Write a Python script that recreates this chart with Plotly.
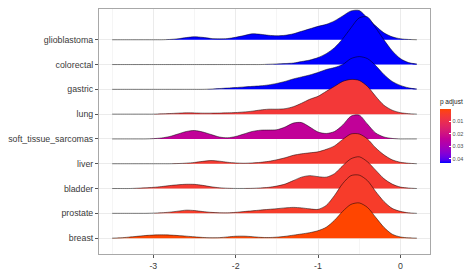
import plotly.graph_objects as go
import plotly.colors as pc

# ---------------- data ----------------
x_grid = [-3.5, -3.4, -3.3, -3.2, -3.1, -3.0, -2.9, -2.8, -2.7, -2.6, -2.5, -2.4, -2.3,
          -2.2, -2.1, -2.0, -1.9, -1.8, -1.7, -1.6, -1.5, -1.4, -1.3, -1.2, -1.1, -1.0,
          -0.9, -0.8, -0.7, -0.6, -0.5, -0.4, -0.3, -0.2, -0.1, 0.0, 0.1, 0.2]

# bottom -> top
categories = ["breast", "prostate", "bladder", "liver", "soft_tissue_sarcomas",
              "lung", "gastric", "colorectal", "glioblastoma"]

p_adjust = [0.0002, 0.004, 0.005, 0.005, 0.024, 0.006, 0.0435, 0.0435, 0.0435]

dens_breast = [0, 0.3, 1, 1.8, 2.6, 3.1, 3.3, 3.1, 2.6, 2, 1.3, 0.7, 0.4, 0.5, 1.2, 1.9, 2, 1.5,
               0.8, 0.6, 1, 1.8, 3, 4.2, 5.5, 7.5, 11, 18, 27, 34, 35.5, 31, 21, 11, 4, 1.2, 0.3, 0]
dens_prostate = [0, 0, 0, 0, 0, 0.2, 0.6, 1.2, 2.2, 3.2, 2.8, 1.8, 1, 0.6, 0.5, 1, 1.8, 2.5, 3.3, 4,
                 4.7, 5.5, 6, 5.5, 4.5, 4, 8, 18, 30, 38, 38.5, 33, 22, 12, 5, 2, 0.5, 0]
dens_bladder = [0, 0, 0, 0.3, 0.7, 1.2, 2, 3, 3.8, 4.3, 4.2, 3.2, 1.8, 0.8, 0.3, 0.1, 0.1, 0.2, 0.6,
                1.2, 2.5, 4.5, 8, 11.5, 13, 12, 11.5, 15, 23, 30, 32, 27, 18.5, 10, 4.5, 1.5, 0.5, 0]
dens_liver = [0, 0, 0, 0, 0, 0, 0, 0, 0.2, 0.6, 1.3, 2.4, 3.2, 2.6, 1.5, 0.8, 0.5, 0.8, 1.4, 2.4, 4, 6,
              8.5, 10, 11, 12, 14.5, 18, 24.5, 30, 30, 25, 16, 9, 4, 1.5, 0.5, 0]
dens_soft = [0, 0, 0, 0, 0, 0.3, 1, 2.5, 5, 7.5, 8.5, 7, 4.5, 2, 1.2, 2.5, 5, 7.5, 8.8, 9, 9.3, 12, 16,
             16.5, 12, 7, 5.5, 7.5, 14, 23, 24, 15, 6, 2, 0.5, 0, 0, 0]
dens_lung = [0, 0, 0, 0, 0, 0, 0.3, 0.6, 1, 1.3, 1.2, 1, 1, 1.1, 1.3, 1.6, 2.2, 3, 4.2, 5, 5, 5.5,
             7.5, 11, 15, 18, 23, 28, 33, 35, 34, 28, 18, 9, 4, 1.5, 0.5, 0]
dens_gastric = [0, 0, 0, 0, 0, 0, 0, 0, 0, 0, 0, 0, 0.3, 0.8, 1.3, 1.8, 2.4, 3, 3.5, 4.5, 6, 8, 10.5,
                12.5, 14.5, 17, 20, 22, 25, 31, 33, 31, 24, 15, 8, 4, 1.5, 0.3]
dens_colorectal = [0, 0, 0, 0, 0, 0, 0, 0, 0, 0, 0, 0, 0, 0, 0, 0, 0, 0, 0, 0.3, 0.6, 1, 1.5,
                   3, 4.5, 7, 11, 17, 26, 37, 47, 48, 37, 25, 14, 6, 2, 0.5]
dens_glio = [0, 0, 0, 0, 0, 0, 0, 0.3, 1, 2.2, 3, 2.4, 1.3, 0.9, 1.2, 2.5, 4.2, 6, 5.5, 4.5, 4,
             4.5, 6, 8.5, 11, 13.5, 15.5, 19, 24, 29, 29.5, 22, 14, 7, 3, 1, 0.3, 0]

densities = [dens_breast, dens_prostate, dens_bladder, dens_liver, dens_soft,
             dens_lung, dens_gastric, dens_colorectal, dens_glio]

x_ticks = [-3, -2, -1, 0]
legend_ticks = [0.01, 0.02, 0.03, 0.04]

# ---------------- style ----------------
SCALE = 0.04          # ridge height scale (density units -> category spacing)
LOW_COL = "#FF4500"   # small p.adjust
HIGH_COL = "#0000FF"  # large p.adjust
FONT = "Liberation Sans, Arial, sans-serif"


def _hex(h):
    h = h.lstrip("#")
    return [int(h[i:i + 2], 16) / 255 for i in (0, 2, 4)]


def _to_lin(c):
    return c / 12.92 if c <= 0.04045 else ((c + 0.055) / 1.055) ** 2.4


def _from_lin(c):
    c = max(0.0, min(1.0, c))
    return 12.92 * c if c <= 0.0031308 else 1.055 * c ** (1 / 2.4) - 0.055


def rgb2lab(rgb):
    r, g, b = [_to_lin(c) for c in rgb]
    X = (0.4124 * r + 0.3576 * g + 0.1805 * b) / 0.95047
    Y = (0.2126 * r + 0.7152 * g + 0.0722 * b)
    Z = (0.0193 * r + 0.1192 * g + 0.9505 * b) / 1.08883
    f = lambda t: t ** (1 / 3) if t > 0.008856 else 7.787 * t + 16 / 116
    fx, fy, fz = f(X), f(Y), f(Z)
    return [116 * fy - 16, 500 * (fx - fy), 200 * (fy - fz)]


def lab2rgb(lab):
    L, a, b = lab
    fy = (L + 16) / 116
    fx = fy + a / 500
    fz = fy - b / 200
    finv = lambda t: t ** 3 if t ** 3 > 0.008856 else (t - 16 / 116) / 7.787
    X, Y, Z = finv(fx) * 0.95047, finv(fy), finv(fz) * 1.08883
    r = 3.2406 * X - 1.5372 * Y - 0.4986 * Z
    g = -0.9689 * X + 1.8758 * Y + 0.0415 * Z
    bb = 0.0557 * X - 0.2040 * Y + 1.0570 * Z
    return "rgb(%d,%d,%d)" % tuple(round(_from_lin(c) * 255) for c in (r, g, bb))


lab_hi, lab_lo = rgb2lab(_hex(HIGH_COL)), rgb2lab(_hex(LOW_COL))


def lab_mix(t):  # t=0 -> high p (blue), t=1 -> low p (red)
    return lab2rgb([lab_hi[i] + (lab_lo[i] - lab_hi[i]) * t for i in range(3)])


n_stops = 21
colorscale = [[i / (n_stops - 1), lab_mix(i / (n_stops - 1))] for i in range(n_stops)]

neg_p = [-p for p in p_adjust]
cmin, cmax = min(neg_p), max(neg_p)

fig = go.Figure()

n = len(categories)
# draw from top to bottom so lower ridges overlap upper ones
for idx in reversed(range(n)):
    base = idx + 1
    top = [base + d * SCALE for d in densities[idx]]
    t = (neg_p[idx] - cmin) / (cmax - cmin)
    col = pc.sample_colorscale(colorscale, [t])[0]
    fig.add_trace(go.Scatter(
        x=x_grid + x_grid[::-1], y=top + [base] * len(x_grid),
        fill="toself", fillcolor=col, mode="lines",
        line=dict(width=0, shape="spline", smoothing=0.8),
        hoverinfo="skip", showlegend=False))
    fig.add_trace(go.Scatter(
        x=x_grid, y=top, mode="lines",
        line=dict(width=0.5, color="black", shape="spline", smoothing=0.8),
        hoverinfo="skip", showlegend=False))

# colour bar holder
fig.add_trace(go.Scatter(
    x=[x_grid[0]] * n, y=list(range(1, n + 1)), mode="markers",
    marker=dict(size=1, opacity=0, color=neg_p, cmin=cmin, cmax=cmax,
                colorscale=colorscale, showscale=True,
                colorbar=dict(
                    title=dict(text="p adjust", side="top",
                               font=dict(size=6.5, color="#222222", family=FONT)),
                    tickvals=[-v for v in legend_ticks],
                    ticktext=["%.2f" % v for v in legend_ticks],
                    tickfont=dict(size=5.5, color="#4D4D4D", family=FONT),
                    ticks="inside", ticklen=2, tickcolor="white", tickwidth=0.6,
                    thickness=11, len=67, lenmode="pixels",
                    x=1.03, xanchor="left", y=0.508, yanchor="middle",
                    outlinewidth=0, xpad=0, ypad=0)),
    hoverinfo="skip", showlegend=False))

fig.update_layout(
    width=474, height=279,
    margin=dict(l=98, r=42, t=8, b=24),
    paper_bgcolor="white", plot_bgcolor="white",
    font=dict(family=FONT, color="#3A3A3A"),
    xaxis=dict(range=[-3.66, 0.36], tickvals=x_ticks, ticktext=[str(v) for v in x_ticks],
               showgrid=True, gridcolor="#EBEBEB", gridwidth=0.6,
               minor=dict(dtick=0.5, showgrid=True, gridcolor="#F5F5F5", gridwidth=0.5),
               zeroline=False, showline=True, mirror=True, linecolor="#A8A8A8", linewidth=1,
               ticks="outside", ticklen=3, tickcolor="#555555", tickwidth=0.6,
               tickfont=dict(size=8.8, color="#3A3A3A")),
    yaxis=dict(range=[0.36, 10.24], tickvals=list(range(1, n + 1)), ticktext=categories,
               showgrid=True, gridcolor="#EBEBEB", gridwidth=0.6,
               zeroline=False, showline=True, mirror=True, linecolor="#A8A8A8", linewidth=1,
               ticks="outside", ticklen=3, tickcolor="#555555", tickwidth=0.6,
               tickfont=dict(size=8.8, color="#3A3A3A")),
)

fig.write_html("out.html")
